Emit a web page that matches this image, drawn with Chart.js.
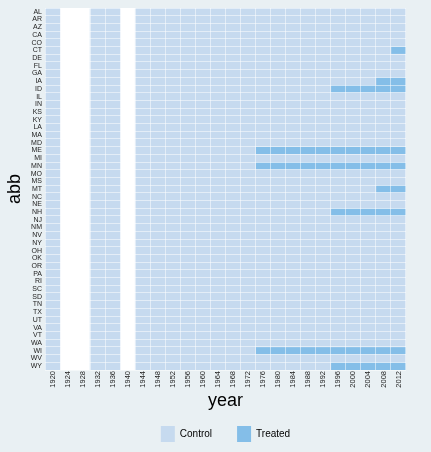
<!DOCTYPE html>
<html>
<head>
<meta charset="utf-8">
<script src="https://cdn.jsdelivr.net/npm/chart.js@4.4.1/dist/chart.umd.min.js"></script>
<style>
  html, body { margin: 0; padding: 0; background: #e9f0f3; }
  #wrap { width: 431px; height: 452px; }
</style>
</head>
<body>
<div id="wrap"><canvas id="chart" width="431" height="452"></canvas></div>
<script>
var STATES = ['AL', 'AR', 'AZ', 'CA', 'CO', 'CT', 'DE', 'FL', 'GA', 'IA', 'ID', 'IL', 'IN', 'KS', 'KY', 'LA',
    'MA', 'MD', 'ME', 'MI', 'MN', 'MO', 'MS', 'MT', 'NC', 'NE', 'NH', 'NJ', 'NM', 'NV', 'NY', 'OH',
    'OK', 'OR', 'PA', 'RI', 'SC', 'SD', 'TN', 'TX', 'UT', 'VA', 'VT', 'WA', 'WI', 'WV', 'WY'];

// election years on the x axis (also the tick labels)
var YEARS = [1920, 1924, 1928, 1932, 1936, 1940, 1944, 1948, 1952, 1956, 1960, 1964,
    1968, 1972, 1976, 1980, 1984, 1988, 1992, 1996, 2000, 2004, 2008, 2012];

// years with no observations at all (white columns)
var MISSING_YEARS = [1924, 1928, 1940];

// states that get treated, and the first treated year
var TREATED_STATES = ['CT', 'IA', 'ID', 'ME', 'MN', 'MT', 'NH', 'WI', 'WY'];
var TREATED_FROM = [2012, 2008, 1996, 1976, 1976, 2008, 1996, 1976, 1996];

var CONTROL_COLOR = '#c6daef';
var TREATED_COLOR = '#84bee8';
var LEGEND_PAD = 25;

function isTreated(state, year) {
    var i = TREATED_STATES.indexOf(state);
    return i >= 0 && year >= TREATED_FROM[i];
}

function buildCells(treated) {
    var cells = [];
    STATES.forEach(function (state) {
        YEARS.forEach(function (year) {
            if (MISSING_YEARS.indexOf(year) >= 0) return;
            if (isTreated(state, year) !== treated) return;
            // each cell spans half a step either side of its year
            cells.push({ y: state, x: [year - 2, year + 2] });
        });
    });
    return cells;
}

// white plot region behind the cells
var plotBg = {
    id: 'plotBg',
    beforeDatasetsDraw: function (chart) {
        var a = chart.chartArea, c = chart.ctx;
        c.save();
        c.fillStyle = '#ffffff';
        c.fillRect(a.left, a.top, a.right - a.left, a.bottom - a.top);
        c.restore();
    }
};

// keep the legend short and centre it under the plot
var legendPlace = {
    id: 'legendPlace',
    beforeLayout: function (chart) {
        var lg = chart.legend;
        if (lg && !lg._patched) {
            var fit = lg.fit;
            lg.fit = function () { fit.call(this); this.height = 26; };
            lg._patched = true;
        }
    },
    afterLayout: function (chart) {
        var lg = chart.legend, a = chart.chartArea;
        if (!lg) return;
        lg.left = a.left;
        lg.right = a.right;
        lg.width = a.right - a.left;
        lg.top = lg.top - LEGEND_PAD;
    }
};

var ctx = document.getElementById('chart');

var myChart = new Chart(ctx, {
    type: 'bar',
    data: {
        datasets: [{
            label: 'Control',
            data: buildCells(false),
            backgroundColor: CONTROL_COLOR
        }, {
            label: 'Treated',
            data: buildCells(true),
            backgroundColor: TREATED_COLOR
        }]
    },
    plugins: [plotBg, legendPlace],
    options: {
        indexAxis: 'y',
        responsive: false,
        animation: false,
        devicePixelRatio: 1,
        datasets: {
            bar: {
                grouped: false,
                categoryPercentage: 1,
                barPercentage: 1,
                borderWidth: 0,
                borderSkipped: false
            }
        },
        layout: { padding: { top: 8, left: 0, right: 25, bottom: 0 } },
        plugins: {
            tooltip: { enabled: false },
            legend: {
                position: 'bottom',
                labels: {
                    boxWidth: 14,
                    boxHeight: 16,
                    padding: LEGEND_PAD,
                    color: '#000',
                    font: { family: 'Liberation Sans', size: 10 }
                }
            }
        },
        scales: {
            x: {
                type: 'linear',
                position: 'bottom',
                min: YEARS[0] - 2,
                max: YEARS[YEARS.length - 1] + 2,
                afterBuildTicks: function (s) {
                    s.ticks = YEARS.map(function (v) { return { value: v }; });
                },
                afterFit: function (s) { s.height = 56; },
                border: { display: false },
                grid: { offset: true, z: 1, color: 'rgba(255,255,255,0.5)', lineWidth: 1, drawTicks: false },
                ticks: {
                    autoSkip: false,
                    minRotation: 90,
                    maxRotation: 90,
                    padding: 1,
                    color: '#222',
                    font: { family: 'Liberation Sans', size: 7.5 },
                    callback: function (v) { return String(v); }
                },
                title: {
                    display: true,
                    text: 'year',
                    color: '#000',
                    padding: { top: 2, bottom: 14 },
                    font: { family: 'Liberation Sans', size: 18 }
                }
            },
            y: {
                type: 'category',
                labels: STATES,
                offset: true,
                afterFit: function (s) { s.width = 45; },
                border: { display: false },
                grid: { offset: true, z: 1, color: 'rgba(255,255,255,0.5)', lineWidth: 1, drawTicks: false },
                ticks: {
                    autoSkip: false,
                    padding: 3,
                    color: '#222',
                    font: { family: 'Liberation Sans', size: 7 }
                },
                title: {
                    display: true,
                    text: 'abb',
                    color: '#000',
                    padding: { top: 4, bottom: 2 },
                    font: { family: 'Liberation Sans', size: 18 }
                }
            }
        }
    }
});
</script>
</body>
</html>
